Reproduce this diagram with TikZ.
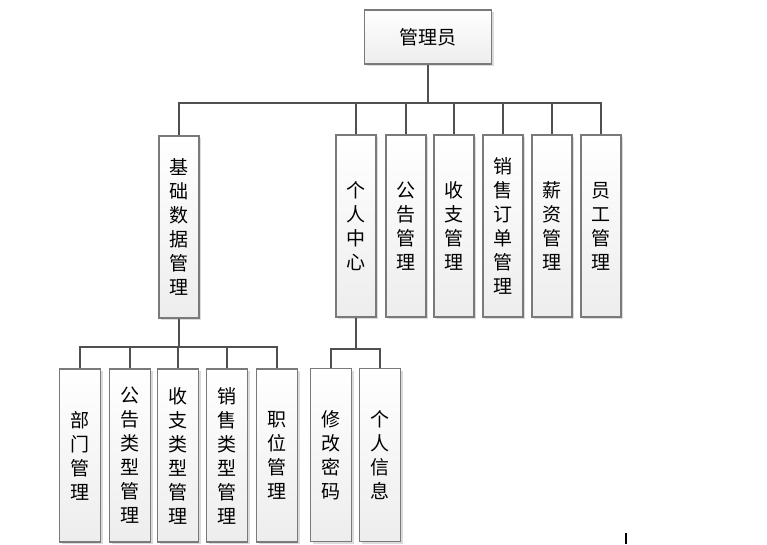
\documentclass[tikz,border=0pt]{standalone}
\usepackage{fontspec}
\setmainfont{Noto Sans CJK SC}
\usetikzlibrary{shadows}

\definecolor{boxline}{HTML}{7A7A7A}
\definecolor{linkline}{HTML}{505050}

\tikzset{
  box/.style={draw=boxline, line width=1.4pt, top color=white, bottom color=gray!14,
    drop shadow={shadow xshift=2pt, shadow yshift=-2pt, fill=gray!35, opacity=0.8},
    inner sep=0pt, align=center, font=\fontsize{19}{24}\selectfont},
  midbox/.style={box, minimum width=40pt, minimum height=182pt},
  lowbox/.style={box, minimum width=41pt, minimum height=173pt},
  link/.style={draw=linkline, line width=1.6pt}
}

\begin{document}
\begin{tikzpicture}[x=1pt, y=-1pt]
    \useasboundingbox (0,0) rectangle (767,544);

    % top
    \node[box, minimum width=127pt, minimum height=54pt] (admin) at (428,37) {管理员};

    % second row
    \node[midbox] (jichu) at (179,227) {基\\础\\数\\据\\管\\理};
    \node[midbox] (geren) at (356,226) {个\\人\\中\\心};
    \node[midbox] (gonggao) at (406,226) {公\\告\\管\\理};
    \node[midbox] (shouzhi) at (454,226) {收\\支\\管\\理};
    \node[midbox] (xiaoshou) at (503,226) {销\\售\\订\\单\\管\\理};
    \node[midbox] (xinzi) at (552,226) {薪\\资\\管\\理};
    \node[midbox] (yuangong) at (601,226) {员\\工\\管\\理};

    % third row, under jichu
    \node[lowbox] (bumen) at (80,455.5) {部\\门\\管\\理};
    \node[lowbox] (gglx) at (130,455.5) {公\\告\\类\\型\\管\\理};
    \node[lowbox] (szlx) at (178,455.5) {收\\支\\类\\型\\管\\理};
    \node[lowbox] (xslx) at (227,455.5) {销\\售\\类\\型\\管\\理};
    \node[lowbox] (zhiwei) at (277,455.5) {职\\位\\管\\理};

    % third row, under geren
    \node[lowbox] (mima) at (331,455) {修\\改\\密\\码};
    \node[lowbox] (xinxi) at (380,455) {个\\人\\信\\息};

    % connectors
    \coordinate (topbus) at (428,103);
    \coordinate (jbus) at (179,347);
    \coordinate (gbus) at (356,349);

    \draw[link] (admin.south) -- (topbus);
    \foreach \n in {jichu,geren,gonggao,shouzhi,xiaoshou,xinzi,yuangong}
        \draw[link] (topbus) -| (\n.north);

    \draw[link] (jichu.south) -- (jbus);
    \foreach \n in {bumen,gglx,szlx,xslx,zhiwei}
        \draw[link] (jbus) -| (\n.north);

    \draw[link] (geren.south) -- (gbus);
    \foreach \n in {mima,xinxi}
        \draw[link] (gbus) -| (\n.north);

    % stray mark
    \draw[line width=1.5pt] (626,533) -- (626,544);
\end{tikzpicture}
\end{document}
